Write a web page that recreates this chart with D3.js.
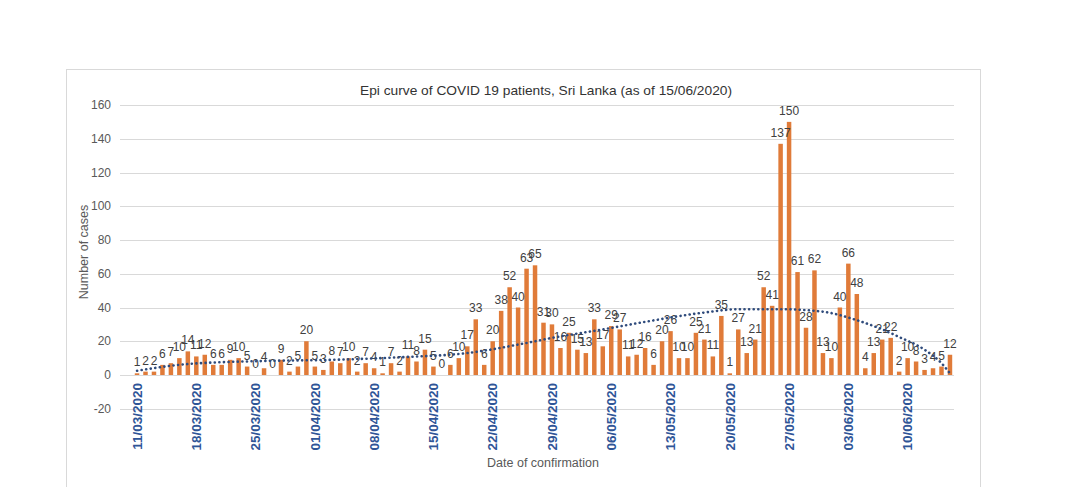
<!DOCTYPE html>
<html>
<head>
<meta charset="utf-8">
<script src="https://cdn.jsdelivr.net/npm/d3@7"></script>
<style>
  body { margin: 0; background: #fff; }
  svg { display: block; }
</style>
</head>
<body>
<div id="chart"></div>
<script>
// daily confirmed cases, 11/03/2020 .. 15/06/2020
const cases = [
  1, 2, 2, 6, 7, 10, 14, 11, 12, 6, 6, 9, 10, 5, 0, 4, 0, 9, 2, 5,
  20, 5, 3, 8, 7, 10, 2, 7, 4, 1, 7, 2, 11, 8, 15, 5, 0, 6, 10, 17,
  33, 6, 20, 38, 52, 40, 63, 65, 31, 30, 16, 25, 15, 13, 33, 17, 29, 27, 11, 12,
  16, 6, 20, 26, 10, 10, 25, 21, 11, 35, 1, 27, 13, 21, 52, 41, 137, 150, 61, 28,
  62, 13, 10, 40, 66, 48, 4, 13, 21, 22, 2, 10, 8, 3, 4, 5, 12
];

// dotted trend line (day index, value)
const trendDays = [0, 6, 15, 23, 31, 39, 46, 49, 55, 60, 67, 71, 76, 81, 85, 88, 90, 93, 95, 96];
const trendValues = [2.5, 6.5, 8.3, 9, 10.5, 13, 19, 22, 27, 31.5, 37, 39, 39, 37.5, 32.5, 27, 22.5, 15, 7, 1];

const yTicks = [-20, 0, 20, 40, 60, 80, 100, 120, 140, 160];

const dates = d3.timeDay.range(new Date(2020, 2, 11), new Date(2020, 5, 16));
const fmt = d3.timeFormat("%d/%m/%Y");

const width = 1079, height = 487;

const svg = d3.select("#chart")
  .append("svg")
  .attr("width", width)
  .attr("height", height);

// chart frame
svg.append("rect")
  .attr("x", 66.5).attr("y", 69.5)
  .attr("width", 914).attr("height", 440)
  .attr("fill", "#fff")
  .attr("stroke", "#d9d9d9");

const x = d3.scaleBand()
  .domain(dates)
  .range([132.8, 954.2])
  .paddingInner(0.47)
  .paddingOuter(0.235);

const y = d3.scaleLinear()
  .domain([-20, 160])
  .range([408.75, 105]);

// gridlines
svg.append("g")
  .selectAll("line")
  .data(yTicks)
  .enter().append("line")
    .attr("x1", 120).attr("x2", 954)
    .attr("y1", d => Math.round(y(d)) + 0.5)
    .attr("y2", d => Math.round(y(d)) + 0.5)
    .attr("stroke", "#d9d9d9")
    .attr("stroke-width", 1);

// y tick labels
svg.append("g")
  .selectAll("text")
  .data(yTicks)
  .enter().append("text")
    .attr("x", 111)
    .attr("y", d => y(d))
    .attr("dy", "0.35em")
    .attr("text-anchor", "end")
    .attr("font-family", "Liberation Sans Narrow, Liberation Sans, sans-serif")
    .attr("font-size", 12)
    .attr("fill", "#595959")
    .text(d => d);

// bars
svg.append("g")
  .selectAll("rect")
  .data(cases)
  .enter().append("rect")
    .attr("x", (d, i) => x(dates[i]))
    .attr("width", x.bandwidth())
    .attr("y", d => y(d))
    .attr("height", d => y(0) - y(d))
    .attr("fill", "#e07b39");

// data labels
svg.append("g")
  .selectAll("text")
  .data(cases)
  .enter().append("text")
    .attr("x", (d, i) => x(dates[i]) + x.bandwidth() / 2)
    .attr("y", d => y(d) - 7)
    .attr("text-anchor", "middle")
    .attr("font-family", "Liberation Sans, sans-serif")
    .attr("font-size", 12)
    .attr("fill", "#404040")
    .text(d => d);

// trend line
const line = d3.line()
  .x((d, i) => x(dates[d]) + x.bandwidth() / 2)
  .y((d, i) => y(trendValues[i]))
  .curve(d3.curveMonotoneX);

svg.append("path")
  .datum(trendDays)
  .attr("d", line)
  .attr("fill", "none")
  .attr("stroke", "#2f4b7c")
  .attr("stroke-width", 2.6)
  .attr("stroke-linecap", "round")
  .attr("stroke-dasharray", "0.1,4.5");

// x axis labels (weekly)
const xAxis = d3.axisBottom(x)
  .tickValues(dates.filter((d, i) => i % 7 === 0))
  .tickFormat(fmt)
  .tickSize(0);

const gx = svg.append("g")
  .attr("transform", `translate(0,${y(0)})`)
  .call(xAxis);

gx.select(".domain").remove();
gx.selectAll("text")
  .attr("transform", "rotate(-90)")
  .attr("x", -8)
  .attr("y", 0)
  .attr("dx", 0)
  .attr("dy", "0.35em")
  .attr("text-anchor", "end")
  .attr("font-family", "Liberation Sans Narrow, Liberation Sans, sans-serif")
  .attr("font-weight", "bold")
  .attr("font-size", 13.5)
  .attr("fill", "#2f5597");

// titles
svg.append("text")
  .attr("x", 546).attr("y", 95)
  .attr("text-anchor", "middle")
  .attr("font-family", "Liberation Sans, sans-serif")
  .attr("font-size", 13)
  .attr("textLength", 372)
  .attr("lengthAdjust", "spacingAndGlyphs")
  .attr("fill", "#333")
  .text("Epi curve of COVID 19 patients, Sri Lanka  (as of 15/06/2020)");

svg.append("text")
  .attr("transform", "translate(88,252) rotate(-90)")
  .attr("text-anchor", "middle")
  .attr("font-family", "Liberation Sans, sans-serif")
  .attr("font-size", 12.5)
  .attr("fill", "#595959")
  .text("Number of cases");

svg.append("text")
  .attr("x", 543).attr("y", 467)
  .attr("text-anchor", "middle")
  .attr("font-family", "Liberation Sans, sans-serif")
  .attr("font-size", 12.5)
  .attr("fill", "#595959")
  .text("Date of confirmation");
</script>
</body>
</html>
